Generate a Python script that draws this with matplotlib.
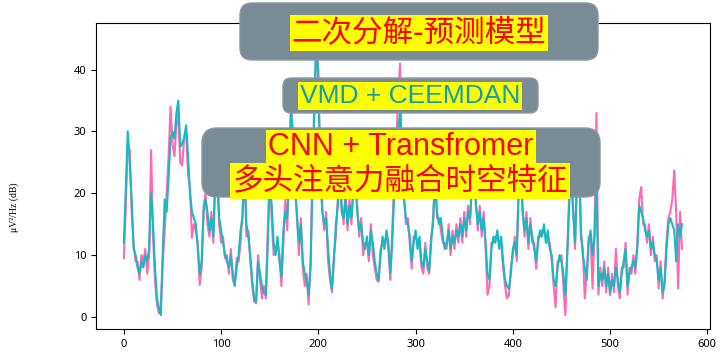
import numpy as np
import matplotlib
matplotlib.use("Agg")
import matplotlib.pyplot as plt
from matplotlib.patches import FancyBboxPatch

# sample index (every 2nd step of the 575 point sequence)
x_idx = np.arange(0, 575, 2)

# predicted (teal)
pred = [
    12, 21, 30, 25, 19, 11, 10, 8, 7, 9,
    8, 10, 9, 11, 20, 15, 8, 3, 1.5, 0.3,
    10.6, 19, 17, 22.6, 29, 30, 28.8, 33, 35, 27.5,
    28, 29, 31, 26, 20, 17, 16, 15, 11, 7,
    9, 17, 19, 17, 14, 16, 13, 22, 25, 16,
    14, 12, 10, 9, 8, 10, 7, 5, 8, 10,
    14, 16, 24, 15, 13, 10, 6, 3, 2.5, 9,
    7, 5, 4, 3.5, 12, 22, 18, 12, 10, 13,
    9, 6.5, 14, 17, 16, 24, 33, 30, 22, 16,
    12, 15, 9, 7, 6, 3.5, 8, 22, 36, 45.3,
    38, 24, 17, 15, 16, 11, 7, 4.5, 9, 15,
    18, 24, 17, 16, 19, 15, 18, 16, 20, 23,
    17, 14, 15, 12, 11, 13, 10, 14, 12, 9,
    7, 6, 10, 13, 11, 14, 12, 7, 12, 20,
    26, 30, 33, 24, 19, 16, 15, 13, 9, 12,
    14, 11, 13, 9, 8, 11, 9, 7.5, 12, 16,
    22, 17, 15, 16, 13, 11, 12, 14, 11, 13,
    12, 14, 13, 15, 13, 16, 14, 17, 16, 21,
    25, 18, 15, 17, 14, 16, 12, 7, 6, 11,
    13, 12, 14, 11, 13, 9, 6, 5, 4.5, 7,
    11, 12, 10, 20, 26, 17, 14, 16, 12, 15,
    13, 11, 9, 12, 14, 13, 15, 12, 14, 11,
    10, 6, 5, 8, 10, 9, 7, 3.5, 10, 18,
    24, 17, 12, 22, 27, 14, 10, 8, 6, 12,
    14, 10, 13, 22, 5, 7, 6, 8, 5, 7,
    4, 6, 5, 8, 6, 4, 7, 9, 11, 5,
    7, 8, 9, 8, 11, 18, 17, 16, 14, 13,
    14, 11, 12, 10, 9, 6, 8, 4, 5, 11,
    15, 16, 15, 14, 9, 15, 13, 15,
]

# actual (pink)
actual = [
    9.5, 18, 28, 27, 17, 12, 9, 9, 6, 10,
    9, 11, 7, 10, 27, 13, 6, 2, 0.6, 2,
    9, 14, 20, 26, 34, 28, 26, 31, 33, 25,
    24.5, 29, 30, 23, 21, 12.8, 15, 14, 12, 5.2,
    8, 18, 20, 15, 13, 17, 12, 24, 22, 15,
    12, 13, 9.5, 10, 7, 11, 6, 5.2, 9.5, 9,
    12, 17, 26, 13, 14, 9, 5, 2.5, 2.2, 10,
    6, 3, 5, 3, 14, 24, 16, 10, 11, 12,
    10, 5, 12, 19, 14, 26, 35, 28, 20, 17,
    10, 16, 8, 5, 7, 2, 9, 24, 33, 44,
    40, 22, 18, 14, 17, 9, 6, 4, 10, 13,
    19, 22, 18, 15, 21, 14, 19, 15, 22, 21,
    18, 13, 16, 10, 12, 12, 9, 15, 10, 8,
    6, 5.7, 11, 12, 12, 13, 11, 6, 14, 22,
    28, 35, 41, 22, 20, 15, 16, 12, 7.8, 13,
    13, 12, 12, 8, 7, 12, 8, 7, 13, 15,
    24, 16, 16, 14, 12, 12, 11, 15, 10, 14,
    11, 15, 12, 16, 12, 17, 13, 18, 15, 23,
    24, 19, 14, 18, 13, 17, 11, 3.6, 5, 12,
    12, 13, 13, 12, 12, 8, 5, 3, 3.5, 8,
    10, 13, 9, 22, 24, 18, 13, 17, 11, 16,
    12, 12, 7.8, 13, 13, 14, 14, 13, 12, 12,
    9, 5, 1.6, 9, 9, 10, 5, 0.3, 11, 20,
    22, 18, 11, 24, 26, 13, 11, 3, 7, 13,
    13, 4.6, 14, 33, 3.6, 8, 5, 9, 4, 8,
    3.5, 7, 4, 11, 5, 3, 8, 8, 12, 3.6,
    8, 7, 10, 7, 12, 19, 21, 15, 15, 12,
    15, 10, 13, 9, 10, 4.6, 9, 3, 6, 12,
    16, 17, 19, 23.7, 17, 4.6, 17, 11,
]

title1 = "二次分解-预测模型"
title2 = "VMD + CEEMDAN"
title3 = "CNN + Transfromer"
title4 = "多头注意力融合时空特征"

fig = plt.figure(figsize=(7.2, 3.52), dpi=100)
ax = fig.add_axes([0.1333, 0.0653, 0.8527, 0.8694])

ax.plot(x_idx, actual, color="#ff69b4", lw=1.5)
ax.plot(x_idx, pred, color="#17b9c2", lw=1.5)
ax.set_xticks(range(0, 700, 100))
ax.set_yticks(range(0, 50, 10))
for lab in ax.get_xticklabels() + ax.get_yticklabels():
    lab.set_fontsize(8)
    lab.set_fontfamily("Noto Sans")

fig.text(0.02, 0.41, "μV²/Hz (dB)", rotation=90, ha="center", va="center",
         fontsize=7, family="Liberation Serif")

# grey rounded boxes (pixel -> inch coords, y from bottom)
def gray_box(x0, y_top, x1, y_bot, r):
    box = FancyBboxPatch((x0 / 100, (352 - y_bot) / 100),
                         (x1 - x0) / 100, (y_bot - y_top) / 100,
                         boxstyle="round,pad=0,rounding_size=%f" % (r / 100),
                         transform=fig.dpi_scale_trans,
                         facecolor="#798b95", edgecolor="#8a99a2", lw=1,
                         zorder=5)
    fig.add_artist(box)

gray_box(240, 3, 598, 60, 12)
gray_box(283, 78, 538, 113, 8)
gray_box(202, 128, 600, 197, 15)

cjk = ["Noto Sans CJK SC", "DejaVu Sans"]
yb = dict(facecolor="yellow", edgecolor="none", pad=1.5)

fig.text(419 / 720, 1 - 33 / 352, title1, ha="center", va="center",
         fontsize=22, color="red", family=cjk, bbox=yb, zorder=6)
fig.text(410 / 720, 1 - 96 / 352, title2, ha="center", va="center",
         fontsize=19, color="#0e9fb3", family="Liberation Sans", bbox=yb, zorder=6)
fig.text(401 / 720, 1 - 147 / 352, title3, ha="center", va="center",
         fontsize=22, color="red", family="Liberation Sans", bbox=yb, zorder=6)
fig.text(400 / 720, 1 - 181 / 352, title4, ha="center", va="center",
         fontsize=22, color="red", family=cjk, bbox=yb, zorder=6)

fig.savefig("out.png", dpi=100)
